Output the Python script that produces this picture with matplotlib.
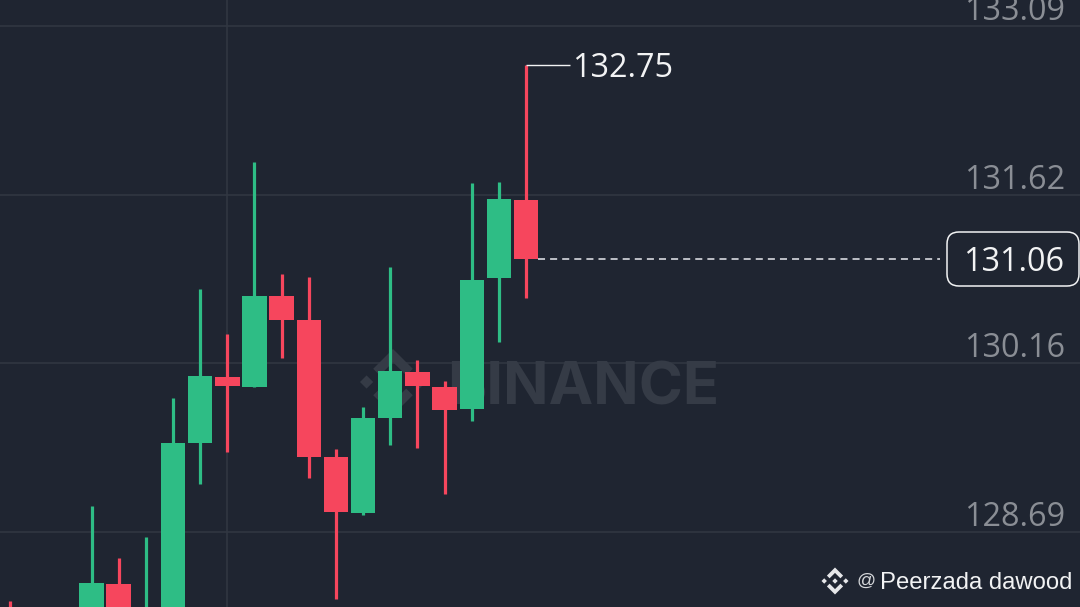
import matplotlib
matplotlib.use("Agg")
import matplotlib.pyplot as plt
from matplotlib.patches import FancyBboxPatch, Polygon
from matplotlib.transforms import Affine2D

plt.rcParams["font.family"] = ["Open Sans", "DejaVu Sans"]

BG = "#1f2531"
GRID = "#323843"
GREEN = "#2ebd85"
RED = "#f6465d"
LABEL = "#8a8e95"
WHITE = "#f2f3f4"
DASH = "#c9ccd2"
MARK = "#353b46"

# candles, first ones are mostly cut off by the bottom edge
index = list(range(-3, 17))
opens = [127.95, 127.70, 127.80, 127.90, 128.237, 127.70, 127.90, 129.459, 130.037, 129.95,
         130.742, 130.533, 129.342, 128.855, 129.681, 130.081, 129.95, 129.759, 130.898, 131.577]
highs = [128.09, 127.95, 128.00, 128.916, 128.463, 128.646, 129.855, 130.803, 130.411, 131.907,
         130.933, 130.907, 129.411, 129.777, 130.994, 130.185, 130.003, 131.724, 131.733, 132.75]
lows = [127.70, 127.60, 127.60, 127.80, 127.80, 127.60, 127.80, 129.107, 129.385, 129.95,
        130.203, 129.159, 128.107, 128.837, 129.446, 129.42, 129.02, 129.655, 130.342, 130.724]
closes = [127.80, 127.90, 127.95, 128.246, 127.90, 127.95, 129.459, 130.046, 129.959, 130.742,
          130.533, 129.342, 128.863, 129.681, 130.09, 129.959, 129.75, 130.881, 131.585, 131.06]

price_ticks = [133.09, 131.62, 130.16, 128.69]
crosshair_x = 5

fig = plt.figure(figsize=(10.8, 6.07), dpi=100, facecolor=BG)
ax = fig.add_axes([0, 0, 1, 1], facecolor=BG)
ax.set_xlim(-3.369, 36.395)
ax.set_ylim(128.037, 133.316)
for s in ax.spines.values():
    s.set_visible(False)
ax.set_xticks([crosshair_x])
ax.set_yticks(price_ticks)
ax.tick_params(length=0, labelbottom=False, labelleft=False)
ax.grid(True, color=GRID, linewidth=1.1)
ax.set_axisbelow(True)

# pixel coords for the decoration (watermark, badge)
px = Affine2D().scale(1 / 1080, -1 / 607).translate(0, 1) + fig.transFigure


def logo(cx, cy, r, color, z):
    u = r / 5.0
    shapes = [
        [(0, -1), (1, 0), (0, 1), (-1, 0)],
        [(-5, 0), (-4, -1), (-3, 0), (-4, 1)],
        [(5, 0), (4, -1), (3, 0), (4, 1)],
        [(0, -5), (3, -2), (2, -1), (0, -3), (-2, -1), (-3, -2)],
        [(0, 5), (3, 2), (2, 1), (0, 3), (-2, 1), (-3, 2)],
    ]
    for s in shapes:
        pts = [(cx + a * u, cy + b * u) for a, b in s]
        ax.add_patch(Polygon(pts, closed=True, transform=px, facecolor=color, edgecolor="none", zorder=z))


# watermark
logo(393, 382, 33, MARK, 1)
ax.text(447, 389, "BINANCE", transform=px, color=MARK, fontsize=43, fontweight="bold",
        family="Inter", ha="left", va="center", zorder=1)

# candles
for i, o, h, l, c in zip(index, opens, highs, lows, closes):
    col = GREEN if c >= o else RED
    ax.vlines(i, l, h, color=col, linewidth=2.3, zorder=3)
    ax.bar(i, abs(c - o), bottom=min(o, c), width=0.9, color=col, linewidth=0, zorder=4)

# price labels
for p in price_ticks:
    ax.annotate(f"{p:.2f}", xy=(1065 / 1080, p), xycoords=("axes fraction", "data"),
                xytext=(0, 10.5), textcoords="offset points", ha="right", va="center",
                color=LABEL, fontsize=23.3, annotation_clip=False)

# high marker
ax.hlines(highs[-1], index[-1], index[-1] + 1.62, color=WHITE, linewidth=1.0, zorder=5)
ax.annotate(f"{highs[-1]:.2f}", xy=(index[-1], highs[-1]), xytext=(33, -2.5),
            textcoords="offset points", ha="left", va="center", color=WHITE, fontsize=23.3, zorder=6)

# last price line and badge
ax.hlines(closes[-1], index[-1] + 0.45, 31.25, color=DASH, linewidth=1.3,
          linestyles=(0, (3.9, 2.8)), zorder=5)
ax.add_patch(FancyBboxPatch((959, 244), 108, 30, boxstyle="round,pad=12,rounding_size=12",
                            transform=px, facecolor=BG, edgecolor=WHITE, linewidth=1.1, zorder=5))
ax.text(1014, 262.5, f"{closes[-1]:.2f}", transform=px, color=WHITE, fontsize=23.3,
        ha="center", va="center", zorder=6)

# attribution
logo(835, 581, 13.5, "#e6e7e9", 6)
ax.text(856, 581, "@", transform=px, color="#d5d7da", fontsize=13.5, family="Liberation Sans",
        ha="left", va="center", zorder=6)
ax.text(879.5, 583, "Peerzada dawood", transform=px, color=WHITE, fontsize=17.2, family="Liberation Sans",
        ha="left", va="center", zorder=6)

fig.savefig("out.png", dpi=100, facecolor=BG)
